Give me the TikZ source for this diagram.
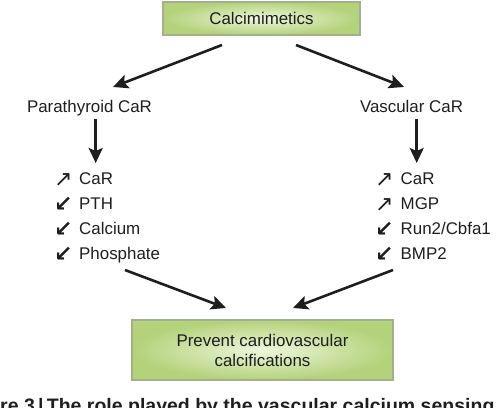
\documentclass[tikz,border=0pt]{standalone}
\usepackage{fontspec}
\setmainfont{Liberation Sans}
\newfontfamily\symfont{DejaVu Sans}
\newfontfamily\symboldfont{DejaVu Sans Bold}
\usetikzlibrary{arrows.meta}
\definecolor{boxgreen}{HTML}{B3D27A}
\definecolor{boxlight}{HTML}{EEF6DC}
\definecolor{boxedge}{HTML}{A3B08F}
\definecolor{ink}{HTML}{1E1E1E}
\tikzset{
  greenbox/.style={draw=boxedge, line width=1.2pt, inner color=boxlight, outer color=boxgreen,
    minimum width=#1, align=center, font=\fontsize{16.9}{20}\selectfont, text=ink},
  lbl/.style={font=\fontsize{16.9}{20}\selectfont, text=ink, inner sep=0pt},
  item/.style={font=\fontsize{16.9}{20}\selectfont, text=ink, inner sep=0pt, anchor=base west},
  symup/.style={font=\symfont\fontsize{22}{24}\selectfont, text=ink, inner sep=0pt, anchor=base west},
  symdown/.style={font=\symboldfont\fontsize{22}{24}\selectfont, text=ink, inner sep=0pt, anchor=base west},
  flow/.style={draw=ink, line width=2.6pt, -{Stealth[length=15pt,width=14pt,inset=3pt]}},
}
\begin{document}
\begin{tikzpicture}[x=1pt,y=-1pt]
\useasboundingbox (0,0) rectangle (500,407);
\clip (0,0) rectangle (500,407);
% boxes
\node[greenbox=197pt, minimum height=33pt] (top) at (261.5,18.5) {Calcimimetics};
\node[greenbox=261pt, minimum height=60pt] (bottom) at (262.5,350) {Prevent cardiovascular\\calcifications};
% receptor labels
\node[lbl, anchor=base] (para) at (89.5,112) {Parathyroid CaR};
\node[lbl, anchor=base] (vasc) at (411.5,112) {Vascular CaR};
% left list
\node[symup] (ls1) at (54,186) {↗};
\node[item] (l1) at (79,184) {CaR};
\node[symdown] (ls2) at (54,211) {↙};
\node[item] (l2) at (79,209) {PTH};
\node[symdown] (ls3) at (54,236) {↙};
\node[item] (l3) at (79,234) {Calcium};
\node[symdown] (ls4) at (54,261) {↙};
\node[item] (l4) at (79,259) {Phosphate};
% right list
\node[symup] (rs1) at (375,186) {↗};
\node[item] (r1) at (400.5,184) {CaR};
\node[symup] (rs2) at (375,211) {↗};
\node[item] (r2) at (400.5,209) {MGP};
\node[symdown] (rs3) at (375,236) {↙};
\node[item] (r3) at (400.5,234) {Run2/Cbfa1};
\node[symdown] (rs4) at (375,261) {↙};
\node[item] (r4) at (400.5,259) {BMP2};
% caption (cut off by the frame, as in the original)
\node[font=\bfseries\fontsize{19.5}{22}\selectfont, text=ink, inner sep=0pt, anchor=base west] (cap) at (0,412.5) {re 3\,|\,The role played by the vascular calcium sensing};
% arrow end points
\coordinate (a1s) at (222,45);
\coordinate (a1e) at (113,87);
\coordinate (a2s) at (296,45);
\coordinate (a2e) at (404,87);
\coordinate (a3s) at (95.7,119);
\coordinate (a3e) at (95.7,163);
\coordinate (a4s) at (416.7,119);
\coordinate (a4e) at (416.7,163);
\coordinate (a5s) at (125,270);
\coordinate (a5e) at (226,308);
\coordinate (a6s) at (393,270);
\coordinate (a6e) at (293,308);
\draw[flow] (a1s) -- (a1e);
\draw[flow] (a2s) -- (a2e);
\draw[flow] (a3s) -- (a3e);
\draw[flow] (a4s) -- (a4e);
\draw[flow] (a5s) -- (a5e);
\draw[flow] (a6s) -- (a6e);
\end{tikzpicture}
\end{document}
